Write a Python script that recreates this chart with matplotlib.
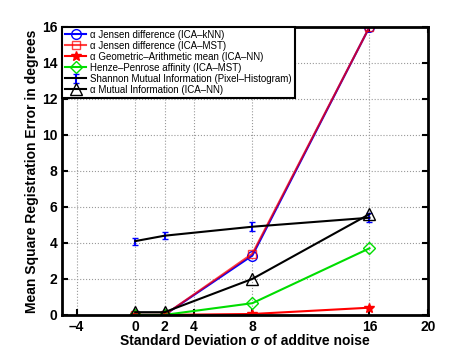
import matplotlib
matplotlib.use("Agg")
import matplotlib.pyplot as plt

plt.rcParams['font.family'] = ['Liberation Sans', 'DejaVu Sans']

sigma = [0, 2, 8, 16]
jensen_knn = [0.0, 0.0, 3.3, 16.0]
jensen_mst = [0.0, 0.0, 3.4, 16.0]
geo_arith = [0.0, 0.0, 0.05, 0.4]
henze = [0.0, 0.0, 0.65, 3.7]
shannon = [4.1, 4.4, 4.9, 5.4]
shannon_err = [0.2, 0.2, 0.25, 0.25]
mi_icann = [0.15, 0.15, 2.0, 5.6]

xticks = [-4, 0, 2, 4, 8, 16, 20]
yticks = [0, 2, 4, 6, 8, 10, 12, 14, 16]

fig = plt.figure(figsize=(4.74, 3.55), dpi=100)
ax = fig.add_axes([0.131, 0.113, 0.772, 0.811])

h1, = ax.plot(sigma, jensen_knn, color='blue', marker='o', mfc='none', ms=7, lw=1.5,
        label='α Jensen difference (ICA–kNN)')
h2, = ax.plot(sigma, jensen_mst, color='red', marker='s', mfc='none', ms=6, lw=1.5, alpha=0.75,
        label='α Jensen difference (ICA–MST)')
h3, = ax.plot(sigma, geo_arith, color='red', marker='*', ms=7, lw=1.5,
        label='α Geometric–Arithmetic mean (ICA–NN)')
h4, = ax.plot(sigma, henze, color='#00dd00', marker='D', mfc='none', ms=6, lw=1.5,
        label='Henze–Penrose affinity (ICA–MST)')
h5 = ax.errorbar(sigma, shannon, yerr=shannon_err, color='black', ecolor='blue', elinewidth=1.5,
            capsize=2, lw=1.5, label='Shannon Mutual Information (Pixel–Histogram)')
h6, = ax.plot(sigma, mi_icann, color='black', marker='^', mfc='none', ms=8, lw=1.5,
        label='α Mutual Information (ICA–NN)')

ax.set_xlim(-5, 20)
ax.set_ylim(0, 16)
ax.set_xticks(xticks)
ax.set_yticks(yticks)
ax.set_xticklabels(['–4' if t == -4 else str(t) for t in xticks])
ax.grid(True, linestyle=':', color='#999999', lw=0.8)
ax.tick_params(direction='in', labelsize=10, width=1.5, length=4, top=True, right=True)
for lab in ax.get_xticklabels() + ax.get_yticklabels():
    lab.set_fontweight('bold')
for s in ax.spines.values():
    s.set_linewidth(2)

ax.set_xlabel('Standard Deviation σ of additve noise', fontsize=10, fontweight='bold', labelpad=0)
ax.set_ylabel('Mean Square Registration Error in degrees', fontsize=10, fontweight='bold', labelpad=2)

handles = [h1, h2, h3, h4, h5, h6]
leg = ax.legend(handles=handles, labels=[h.get_label() for h in handles],
                loc='upper left', fontsize=7, borderaxespad=0, handlelength=2.2,
                labelspacing=0.1, borderpad=0.3, fancybox=False, framealpha=1,
                edgecolor='black', handletextpad=0.4)
leg.get_frame().set_linewidth(1.5)

fig.savefig('out.png', dpi=100)
